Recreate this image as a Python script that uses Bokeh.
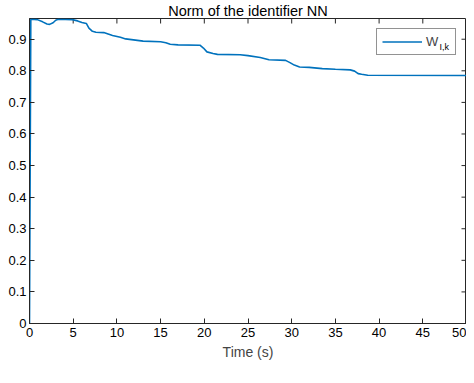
from bokeh.plotting import figure
from bokeh.models import Range1d, LinearAxis, FixedTicker, Legend, LegendItem, Label
from bokeh.embed import file_html
from bokeh.resources import INLINE

# ---- data ----
time_s = [0, 0.15, 0.9, 1.5, 2.0, 2.3, 2.7, 3.0, 3.3, 4.9, 5.5, 6.0, 6.5, 6.8, 7.2,
          7.6, 8.5, 9.5, 10.4, 11.0, 11.9, 13.0, 15.0, 15.6, 16.1, 17.0, 19.5, 19.9,
          20.3, 21.0, 21.5, 24.1, 25.0, 26.4, 27.4, 29.3, 29.8, 30.3, 30.9, 32.0,
          33.5, 35.0, 36.7, 37.2, 37.6, 38.0, 38.7, 50.0]
norm_w = [0.0, 0.963, 0.962, 0.955, 0.948, 0.947, 0.952, 0.960, 0.963, 0.962, 0.958,
          0.953, 0.950, 0.935, 0.925, 0.922, 0.921, 0.912, 0.906, 0.901, 0.898, 0.894,
          0.892, 0.889, 0.884, 0.882, 0.881, 0.872, 0.860, 0.855, 0.852, 0.851, 0.848,
          0.842, 0.835, 0.833, 0.826, 0.818, 0.812, 0.811, 0.807, 0.805, 0.803, 0.799,
          0.791, 0.789, 0.786, 0.785]
x_ticks = [0, 5, 10, 15, 20, 25, 30, 35, 40, 45, 50]
y_ticks = [0, 0.1, 0.2, 0.3, 0.4, 0.5, 0.6, 0.7, 0.8, 0.9]
title_text = "Norm of the identifier NN"
x_label = "Time (s)"
legend_main = "W"
legend_sub = "I,k"

X_MIN, X_MAX = 0, 50
Y_MIN, Y_MAX = 0, 0.9656

FONT = "Liberation Sans"
AX = "#262626"
BLUE = "#0072BD"

p = figure(width=466, height=375, output_backend="svg", toolbar_location=None,
           x_range=Range1d(X_MIN, X_MAX), y_range=Range1d(Y_MIN, Y_MAX),
           x_axis_location=None, y_axis_location=None,
           min_border_left=29, min_border_right=0, min_border_top=0, min_border_bottom=52)

p.title.text = title_text
p.title.align = "center"
p.title.text_font = FONT
p.title.text_font_size = "14.5px"
p.title.text_font_style = "normal"
p.title.text_color = "#000000"
p.title.offset = 0
p.title.standoff = 0

p.xgrid.visible = False
p.ygrid.visible = False
p.outline_line_color = AX
p.outline_line_width = 1


def style(ax):
    ax.axis_line_color = AX
    ax.major_tick_line_color = AX
    ax.major_tick_in = 5
    ax.major_tick_out = 0
    ax.minor_tick_line_color = None
    ax.major_label_text_font = FONT
    ax.major_label_text_color = "#000000"
    ax.major_label_text_font_size = "13px"
    ax.major_label_standoff = 4


bx = LinearAxis(ticker=FixedTicker(ticks=x_ticks))
style(bx)
bx.axis_label = x_label
bx.axis_label_text_font = FONT
bx.axis_label_text_font_size = "14px"
bx.axis_label_text_font_style = "normal"
bx.axis_label_standoff = 4
p.add_layout(bx, "below")

ly = LinearAxis(ticker=FixedTicker(ticks=y_ticks))
style(ly)
ly.major_label_standoff = 3
p.add_layout(ly, "left")

# inward ticks on the top and right edges of the box (half of each dash is clipped by the frame)
p.scatter(x_ticks, [Y_MAX] * len(x_ticks), marker="dash", angle=1.5708, size=10,
          line_color=AX, line_width=1)
p.scatter([X_MAX] * len(y_ticks), y_ticks, marker="dash", size=10,
          line_color=AX, line_width=1)

r = p.line(time_s, norm_w, line_color=BLUE, line_width=1.6)

legend = Legend(items=[LegendItem(label=legend_main, renderers=[r])],
                location="top_right", margin=10, padding=5, spacing=0,
                glyph_width=40, glyph_height=15, label_standoff=4,
                label_width=24, label_height=15,
                label_text_font=FONT, label_text_font_size="13px",
                border_line_color=AX, border_line_width=1,
                background_fill_color="white", background_fill_alpha=0)
p.add_layout(legend)

sub = Label(x=46.9, y=0.876, text=legend_sub, text_font=FONT, text_font_size="9px",
            text_color="#000000", text_baseline="middle", text_align="left",
            level="overlay")
p.add_layout(sub)

open("out.html", "w").write(file_html(p, INLINE))
